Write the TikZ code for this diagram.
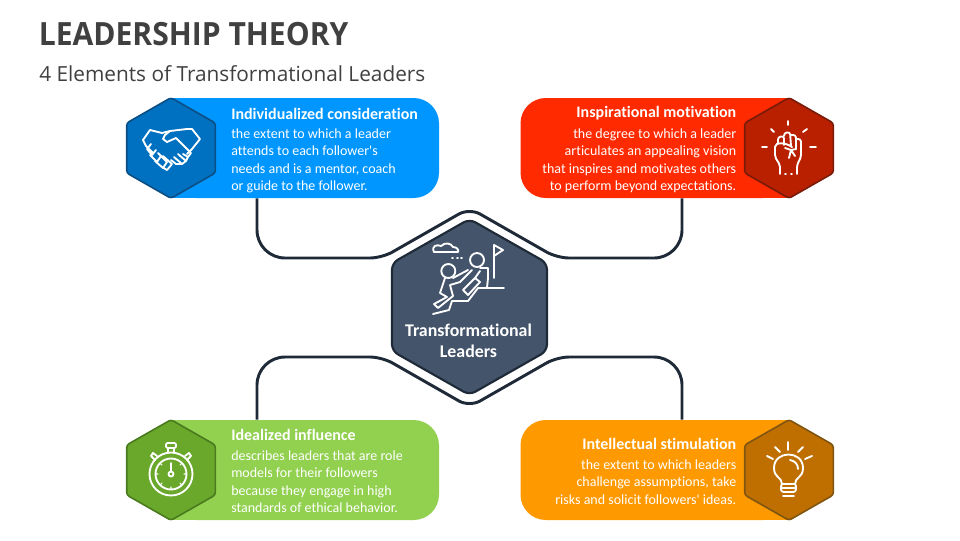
\documentclass[tikz,border=0pt]{standalone}
\usepackage{fontspec}
\setmainfont{Carlito}[Ligatures={TeXOff,NoCommon}]
\newfontfamily\headfont{Open Sans}
\newfontfamily\titlefont{Open Sans}[FakeStretch=0.94]
\usetikzlibrary{calc}
\definecolor{inkdark}{HTML}{1F2A38}
\definecolor{slatefill}{HTML}{44546A}
\definecolor{headgrey}{HTML}{404040}
\definecolor{bluecard}{HTML}{0096FF}
\definecolor{bluehex}{HTML}{0070C0}
\definecolor{blueedge}{HTML}{0B4F85}
\definecolor{redcard}{HTML}{FF2A00}
\definecolor{redhex}{HTML}{B92000}
\definecolor{rededge}{HTML}{7A1A08}
\definecolor{greencard}{HTML}{92D050}
\definecolor{greenhex}{HTML}{6AA82C}
\definecolor{greenedge}{HTML}{4A7A1E}
\definecolor{orangecard}{HTML}{FF9900}
\definecolor{orangehex}{HTML}{BF6F00}
\definecolor{orangeedge}{HTML}{7F5510}
\tikzset{
  cardbox/.style={rectangle, rounded corners=19pt, minimum width=201pt, minimum height=75pt, inner sep=0pt},
  hexbox/.style={line width=1.2pt, rounded corners=2pt},
  linkline/.style={draw=inkdark, line width=2.2pt},
  icon/.style={draw=white, line width=1.4pt, line join=round, line cap=round},
  cardhead/.style={text=white, font=\fontsize{12}{13}\selectfont\bfseries, inner sep=0pt},
  cardtext/.style={text=white, font=\fontsize{10.5}{13}\selectfont, inner sep=0pt},
}
% hexagon round a named centre: name, half width, half height, shoulder, style
\newcommand{\hexat}[5]{%
  \path[#5] ($(#1)+(0,-#3)$) -- ($(#1)+(#2,-#4)$) -- ($(#1)+(#2,#4)$) -- ($(#1)+(0,#3)$)
    -- ($(#1)+(-#2,#4)$) -- ($(#1)+(-#2,-#4)$) -- cycle;}
\begin{document}
\begin{tikzpicture}[x={(0.75pt,0)}, y={(0,-0.75pt)}]
  \useasboundingbox (0,0) rectangle (960,540);
  \node[anchor=west, text=headgrey, inner sep=0pt, font=\titlefont\fontsize{24}{30}\selectfont\bfseries] (title) at (38.5,34.5) {LEADERSHIP THEORY};
  \node[anchor=west, text=headgrey, inner sep=0pt, font=\headfont\fontsize{15.6}{18}\selectfont] (subtitle) at (39,74) {4 Elements of Transformational Leaders};

  \node[cardbox, fill=bluecard] (cardblue) at (305,148) {};
  \node[cardbox, fill=redcard] (cardred) at (654.5,148) {};
  \node[cardbox, fill=greencard] (cardgreen) at (305,470) {};
  \node[cardbox, fill=orangecard] (cardorange) at (654.5,470) {};
  % square off the ends behind the hexagons
  \fill[bluecard] (cardblue.north west) rectangle ($(cardblue.south west)+(30,0)$);
  \fill[redcard] (cardred.north east) rectangle ($(cardred.south east)+(-30,0)$);
  \fill[greencard] (cardgreen.north west) rectangle ($(cardgreen.south west)+(30,0)$);
  \fill[orangecard] (cardorange.north east) rectangle ($(cardorange.south east)+(-30,0)$);

  \coordinate (hub) at (469.5,307);
  \coordinate (hexblue) at (171,148);
  \coordinate (hexred) at (789,148);
  \coordinate (hexgreen) at (171,470);
  \coordinate (hexorange) at (789,470);

  % links run round the hub
  \coordinate (linktl) at (257,258);
  \coordinate (linktr) at (682,258);
  \coordinate (linkbl) at (257,357);
  \coordinate (linkbr) at (682,357);
  \coordinate (apextop) at (469.5,208);
  \coordinate (apexbot) at (469.5,407);
  \draw[linkline] (linktl |- cardblue.south) [rounded corners=21pt] -- (linktl) [rounded corners=9pt] -- (382,258) -- (apextop) -- (557,258) [rounded corners=21pt] -- (linktr) -- (linktr |- cardred.south);
  \draw[linkline] (linkbl |- cardgreen.north) [rounded corners=21pt] -- (linkbl) [rounded corners=9pt] -- (382,357) -- (apexbot) -- (557,357) [rounded corners=21pt] -- (linkbr) -- (linkbr |- cardorange.north);

  \hexat{hub}{77.5}{88}{44}{fill=slatefill, draw=inkdark, line width=1.6pt, rounded corners=5pt}
  \hexat{hexblue}{44.3}{50.3}{25}{hexbox, fill=bluehex, draw=blueedge}
  \hexat{hexred}{44.3}{50.3}{25}{hexbox, fill=redhex, draw=rededge}
  \hexat{hexgreen}{44.3}{50.3}{25}{hexbox, fill=greenhex, draw=greenedge}
  \hexat{hexorange}{44.3}{50.3}{25}{hexbox, fill=orangehex, draw=orangeedge}

  \node[text=white, align=center, inner sep=0pt, font=\fontsize{13.4}{15.8}\selectfont\bfseries] (hublabel) at (468.5,340.5) {Transformational\\Leaders};

  \node[cardhead, anchor=west] (headblue) at (231,114) {Individualized consideration};
  \node[cardtext, anchor=north west, align=left] (textblue) at (231,128.5) {the extent to which a leader\\attends to each follower's\\needs and is a mentor, coach\\or guide to the follower.};
  \node[cardhead, anchor=east] (headred) at (736.5,113.5) {Inspirational motivation};
  \node[cardtext, anchor=north east, align=right] (textred) at (736.5,128.5) {the degree to which a leader\\articulates an appealing vision\\that inspires and motivates others\\to perform beyond expectations.};
  \node[cardhead, anchor=west] (headgreen) at (231,435) {Idealized influence};
  \node[cardtext, anchor=north west, align=left] (textgreen) at (231,450.5) {describes leaders that are role\\models for their followers\\because they engage in high\\standards of ethical behavior.};
  \node[cardhead, anchor=east] (headorange) at (736.5,444) {Intellectual stimulation};
  \node[cardtext, anchor=north east, align=right] (textorange) at (736.5,459.5) {the extent to which leaders\\challenge assumptions, take\\risks and solicit followers' ideas.};

  % handshake
  \draw[icon] (146,146) -- (143,140) -- (150,130) -- (162,133) -- (170,131) -- (187,129) -- (192,129) -- (200,139) -- (192,149) -- (187,154);
  \draw[icon] (170,131) -- (165,135) -- (163,139) -- (167,142) -- (176,138) -- (191,153) -- (188,157) -- (183,154) (188,157) -- (186,161) -- (178,154) (186,161) -- (182,164) -- (174,157) (182,164) -- (176,164) -- (171,160);
  \draw[icon] (146,146) -- (153,153) (151,144) -- (147,149) -- (152,155) -- (156,150) (150,155) -- (157,162) -- (161,156) (155,161) -- (163,168) -- (167,162) -- (158,153) (162,167) -- (167,170) -- (172,164) -- (163,156);

  % fist
  \draw[icon] (788,121) -- (788,125) (771,129) -- (774,132) (807,129) -- (803,132) (762,147) -- (767,147) (810,147) -- (816,147);
  \draw[icon, rounded corners=1.5pt] (780,174) -- (780,165) -- (775,157) -- (775,145) -- (779,143) -- (787,144) -- (792,147);
  \draw[icon, rounded corners=2pt] (778,143) -- (778,137) -- (784,136) -- (784,145) (784,136) -- (784,133) -- (790,132) -- (791,146) (791,135) -- (796,135) -- (796,149) (796,139) -- (801,139) -- (801,157) -- (797,165) -- (797,174);
  \draw[icon] (785,148) -- (791,150) -- (796,149) (791,150) -- (789,158) (791,150) -- (795,156);
  \draw[icon] (785,174) -- (786,174) (791,174) -- (792,174);

  % stopwatch
  \draw[icon] (171,474) circle (21.5) (171,474) circle (15.5) (171,474) circle (2.5);
  \draw[icon] (171,471.5) -- (171,463);
  \draw[icon, rounded corners=1pt] (166,443) rectangle (176,448);
  \draw[icon] (168,448) -- (168,453) (174,448) -- (174,453);
  \draw[icon] (155,460) -- (151,456) -- (153,453) -- (157,456) (187,460) -- (191,456) -- (189,453) -- (185,456);
  \draw[icon, line width=0.8pt] (171,487) -- (171,489) (158,474) -- (156,474) (184,474) -- (186,474) (162,465) -- (160.5,463.5) (180,465) -- (181.5,463.5) (162,483) -- (160.5,484.5) (180,483) -- (181.5,484.5);

  % bulb
  \draw[icon] (788,442) -- (788,450) (775,447) -- (780,452) (803,447) -- (798,452) (767,456) -- (773,459) (812,456) -- (805,459);
  \draw[icon] (782,484) .. controls (782,477) and (774,478) .. (774,468) .. controls (774,450) and (803,450) .. (803,468) .. controls (803,478) and (795,477) .. (795,484) -- cycle;
  \draw[icon] (790,460) .. controls (795,461) and (798,464) .. (798,469);
  \draw[icon, rounded corners=2pt] (782,484) -- (780,488) -- (797,488) -- (795,484) (781,488) -- (781,492) -- (796,492) -- (796,488);
  \draw[icon] (783,496) -- (794,496);

  % climbers
  \draw[icon] (434,252) .. controls (431,246) and (437,244) .. (441,246) .. controls (445,242) and (451,243) .. (453,247) .. controls (457,247) and (459,250) .. (458,252) -- cycle;
  \draw[icon] (452,258) -- (453,258) (457,258) -- (458,258) (461,258) -- (462,258);
  \draw[icon] (448.3,271) circle (7) (477,260) circle (7);
  \draw[icon] (494,278) -- (494,245) -- (503,250) -- (494,256);
  \draw[icon] (433,314) -- (449,310) -- (452,301) -- (468,301) -- (478,288) -- (504,288);
  \draw[icon] (445,278) -- (440,293) -- (447,297) -- (434,304) -- (438,308) -- (453,296) -- (450,285) -- (460,282) -- (472,270);
  \draw[icon] (453,278) -- (468,270);
  \draw[icon] (463,290) -- (475,278) -- (480,282) -- (468,295) -- cycle;
  \draw[icon] (480,268) -- (488,268) -- (488,278) -- (487,288) (475,278) -- (480,271);
\end{tikzpicture}
\end{document}
